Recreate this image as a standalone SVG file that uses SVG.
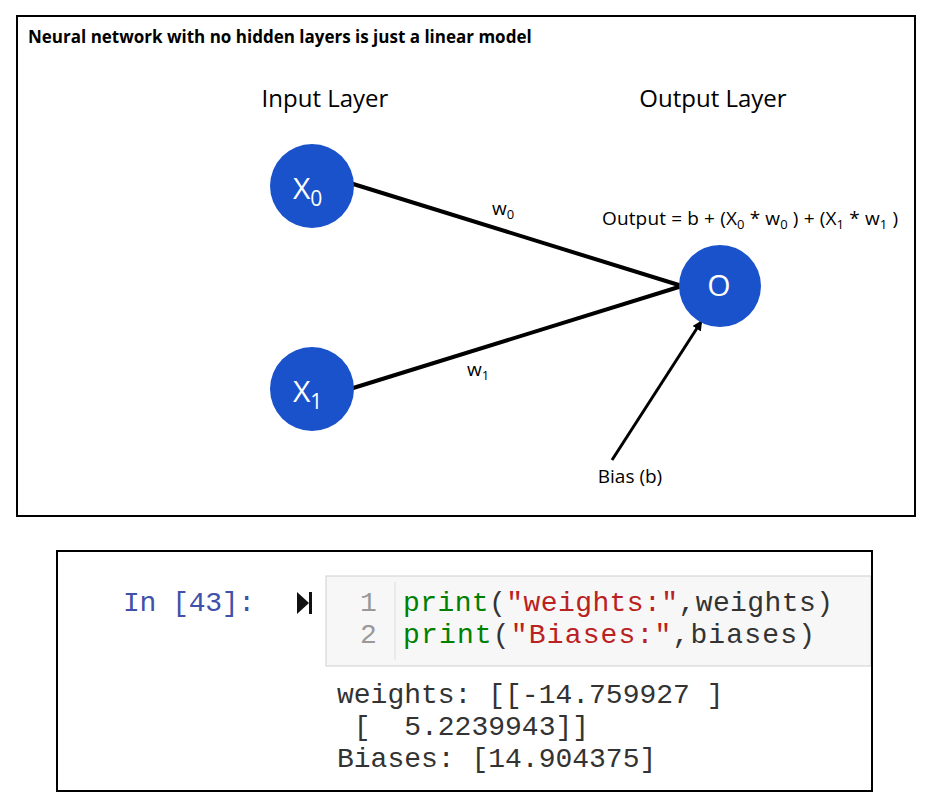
<svg xmlns="http://www.w3.org/2000/svg" width="926" height="800" viewBox="0 0 926 800">
<defs>
<marker id="ah" markerWidth="10" markerHeight="10" refX="8" refY="5" orient="auto" markerUnits="userSpaceOnUse"><path d="M0,0 L10,5 L0,10 z" fill="#000"/></marker>
<style>
.s{font-family:"Open Sans","Liberation Sans",sans-serif;fill:#000}
.n{fill:#1a52cc}
.nt{font-family:"Open Sans","Liberation Sans",sans-serif;fill:#fff;font-size:30px}
.m{font-family:"Liberation Mono",monospace;font-size:28px}
</style>
</defs>
<rect width="926" height="800" fill="#fff"/>
<rect x="17" y="16" width="898" height="500" fill="#fff" stroke="#000" stroke-width="2"/>
<text class="s" x="28" y="43" font-size="17" font-weight="bold">Neural network with no hidden layers is just a linear model</text>
<text class="s" x="325" y="107" font-size="24" text-anchor="middle">Input Layer</text>
<text class="s" x="713" y="107" font-size="24" text-anchor="middle">Output Layer</text>
<g id="connectors" stroke="#000" stroke-width="4" fill="none">
<line x1="350" y1="183" x2="682" y2="286"/>
<line x1="350" y1="389" x2="682" y2="286"/>
<line x1="612" y1="460" x2="701" y2="322" stroke-width="3" marker-end="url(#ah)"/>
</g>
<g id="x0"><circle class="n" cx="312" cy="186" r="42"/><text class="nt" x="293" y="199">X<tspan font-size="21" dy="7">0</tspan></text></g>
<g id="x1"><circle class="n" cx="312" cy="389" r="42"/><text class="nt" x="293" y="402">X<tspan font-size="21" dy="7">1</tspan></text></g>
<g id="o"><circle class="n" cx="720" cy="286" r="41"/><text class="nt" x="719" y="296" text-anchor="middle" font-size="26">O</text></g>
<text class="s" x="492" y="215" font-size="19">w<tspan font-size="13" dy="4">0</tspan></text>
<text class="s" x="467" y="376" font-size="19">w<tspan font-size="13" dy="4">1</tspan></text>
<text class="s" x="602" y="225" font-size="19" textLength="296">Output = b + (X<tspan font-size="13" dy="4">0</tspan><tspan dy="-4"> * w</tspan><tspan font-size="13" dy="4">0</tspan><tspan dy="-4"> ) + (X</tspan><tspan font-size="13" dy="4">1</tspan><tspan dy="-4"> * w</tspan><tspan font-size="13" dy="4">1</tspan><tspan dy="-4"> )</tspan></text>
<text class="s" x="630" y="483" font-size="19" text-anchor="middle">Bias (b)</text>
<rect x="326" y="576" width="545" height="90" fill="#f7f7f7" stroke="#cfcfcf"/>
<rect x="57" y="551" width="815" height="240" fill="none" stroke="#000" stroke-width="2"/>
<text class="m" x="123" y="611" fill="#3f51a8" textLength="132">In [43]:</text>
<path d="M297,592 L309,603 L297,614 z" fill="#111"/><rect x="309" y="592" width="3" height="22" fill="#111"/>
<line x1="395" y1="582" x2="395" y2="660" stroke="#ddd"/>
<text class="m" x="360" y="611" fill="#999">1</text>
<text class="m" x="360" y="643" fill="#999">2</text>
<text class="m" x="403" y="611" textLength="430"><tspan fill="#008000">print</tspan><tspan fill="#333">(</tspan><tspan fill="#ba2121">"weights:"</tspan><tspan fill="#333">,weights)</tspan></text>
<text class="m" x="403" y="643" textLength="412"><tspan fill="#008000">print</tspan><tspan fill="#333">(</tspan><tspan fill="#ba2121">"Biases:"</tspan><tspan fill="#333">,biases)</tspan></text>
<g class="m" fill="#333">
<text x="337" y="703" xml:space="preserve">weights: [[-14.759927 ]</text>
<text x="337" y="735" xml:space="preserve"> [  5.2239943]]</text>
<text x="337" y="767" xml:space="preserve">Biases: [14.904375]</text>
</g>
</svg>
